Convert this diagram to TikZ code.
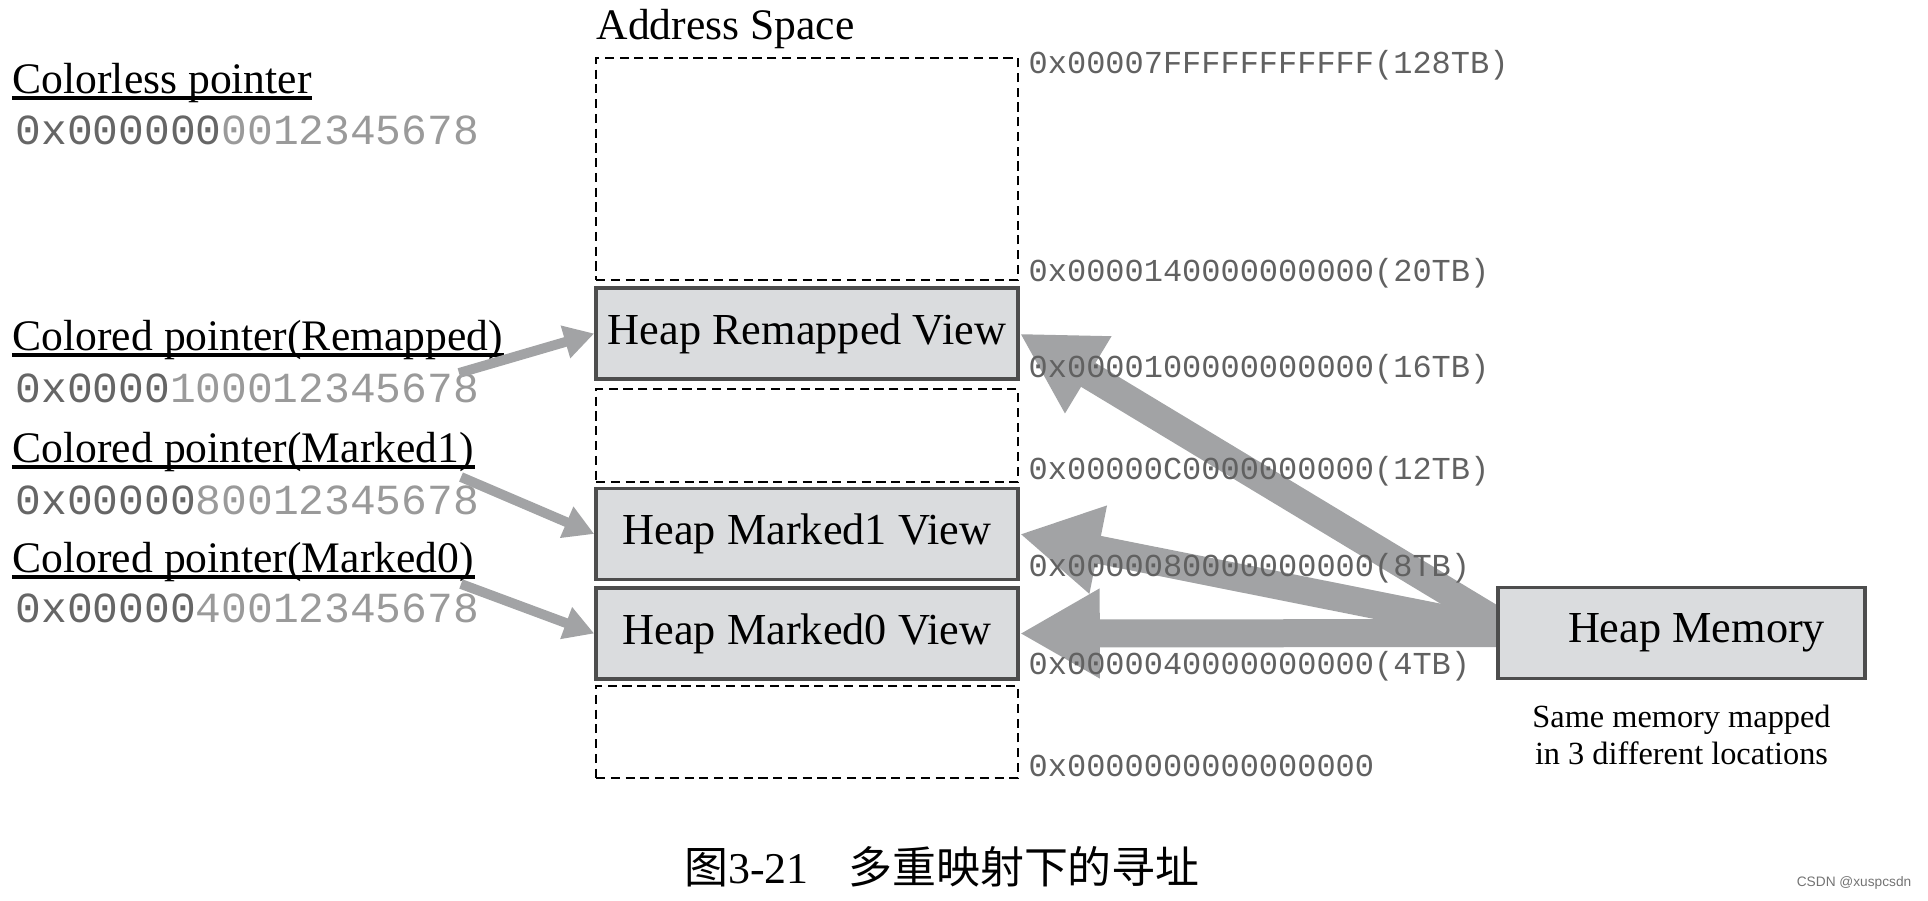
\documentclass[tikz,border=0pt]{standalone}
\usepackage{fontspec}
\setmainfont{Liberation Serif}
\setmonofont{Liberation Mono}
\setsansfont{Liberation Sans}
\newfontfamily\cjk{Noto Sans CJK SC}
\usetikzlibrary{arrows.meta,positioning,backgrounds}
\definecolor{boxfill}{HTML}{DADCDE}
\definecolor{boxline}{HTML}{4D4D4D}
\definecolor{arrowgray}{HTML}{A2A3A5}
\definecolor{hibits}{HTML}{666666}
\definecolor{lobits}{HTML}{9A9A9A}
\newcommand{\ptrbits}[2]{\textcolor{hibits}{#1}\textcolor{lobits}{#2}}
\begin{document}
\begin{tikzpicture}[
  viewbox/.style={draw=boxline, fill=boxfill, line width=1pt, minimum width=4.22cm,
    minimum height=0.91cm, inner sep=0pt, font=\fontsize{12.6}{15}\selectfont},
  freebox/.style={draw, dash pattern=on 2.6pt off 1.6pt, line width=0.6pt,
    minimum width=4.22cm, inner sep=0pt},
  addr/.style={anchor=west, inner sep=0pt, text=black!62, font=\ttfamily\fontsize{9.1}{11}\selectfont},
  ptrname/.style={anchor=base west, inner sep=0pt, font=\fontsize{12.4}{14}\selectfont},
  ptrval/.style={anchor=base west, inner sep=0pt, font=\ttfamily\fontsize{12.2}{14}\selectfont},
  uline/.style={line width=1.1pt},
  ptrarrow/.style={draw=arrowgray, line width=2.8pt, -{Triangle[length=0.3cm,width=0.32cm]}},
  maparrow/.style={draw=arrowgray, line width=0.28cm, -{Triangle[length=0.8cm,width=0.84cm]}}
]
\useasboundingbox (0,0) rectangle (19.28,-9);

% address space
\node[ptrname] (title) at (5.96,-0.39) {Address Space};
\node[freebox, minimum height=2.22cm] (free_top) at (8.07,-1.69) {};
\node[viewbox] (view_remap) at (8.07,-3.335) {Heap Remapped View};
\node[freebox, minimum height=0.93cm] (free_mid) at (8.07,-4.355) {};
\node[viewbox] (view_m1) at (8.07,-5.34) {Heap Marked1 View};
\node[viewbox] (view_m0) at (8.07,-6.335) {Heap Marked0 View};
\node[freebox, minimum height=0.92cm] (free_low) at (8.07,-7.32) {};

% boundaries
\node[addr] (a_128) at (10.28,-0.65) {0x00007FFFFFFFFFFF(128TB)};
\node[addr] (a_20) at (10.28,-2.73) {0x0000140000000000(20TB)};
\node[addr] (a_16) at (10.28,-3.69) {0x0000100000000000(16TB)};
\node[addr] (a_12) at (10.28,-4.71) {0x00000C0000000000(12TB)};
\node[addr] (a_8) at (10.28,-5.68) {0x0000080000000000(8TB)};
\node[addr] (a_4) at (10.28,-6.66) {0x0000040000000000(4TB)};
\node[addr] (a_0) at (10.28,-7.66) {0x0000000000000000};

% pointers
\node[ptrname] (n_free) at (0.12,-0.93) {Colorless pointer};
\node[ptrval] (v_free) at (0.15,-1.44) {\ptrbits{0x000000}{0012345678}};
\node[ptrname] (n_remap) at (0.12,-3.50) {Colored pointer(Remapped)};
\node[ptrval] (v_remap) at (0.15,-4.02) {\ptrbits{0x0000}{100012345678}};
\node[ptrname] (n_m1) at (0.12,-4.62) {Colored pointer(Marked1)};
\node[ptrval] (v_m1) at (0.15,-5.14) {\ptrbits{0x00000}{80012345678}};
\node[ptrname] (n_m0) at (0.12,-5.72) {Colored pointer(Marked0)};
\node[ptrval] (v_m0) at (0.15,-6.22) {\ptrbits{0x00000}{40012345678}};
\foreach \n in {n_free,n_remap,n_m1,n_m0}
  \draw[uline] ([yshift=-1.5pt]\n.base west) -- ([yshift=-1.5pt]\n.base east);

\coordinate (t_remap) at (4.59,-3.73);
\coordinate (t_m1) at (4.61,-4.77);
\coordinate (t_m0) at (4.61,-5.84);
\draw[ptrarrow] (t_remap) -- (view_remap.west);
\draw[ptrarrow] (t_m1) -- (view_m1.west);
\draw[ptrarrow] (t_m0) -- (view_m0.west);

% heap memory
\node[viewbox, minimum width=3.67cm] (heap_mem) at (16.815,-6.33) {\hspace{0.3cm}Heap Memory};
\node[below=0.12cm of heap_mem, align=center, font=\fontsize{9.2}{10.6}\selectfont] (same_note)
  {Same memory mapped\\in 3 different locations};
\begin{scope}[on background layer]
\draw[maparrow] ([xshift=2mm]heap_mem.west) -- (view_m0.east);
\draw[maparrow] ([xshift=2mm]heap_mem.west) -- (view_m1.east);
\draw[maparrow] ([xshift=2mm]heap_mem.west) -- (view_remap.east);
\end{scope}

\node[font=\fontsize{12.5}{15}\selectfont] (fig_caption) at (9.42,-8.67)
  {{\cjk 图}3-21\hspace{0.9em}{\cjk 多重映射下的寻址}};
\node[anchor=east, inner sep=0pt, text=black!55, font=\sffamily\fontsize{3.9}{5}\selectfont] (mark)
  at (19.12,-8.83) {CSDN @xuspcsdn};
\end{tikzpicture}
\end{document}
